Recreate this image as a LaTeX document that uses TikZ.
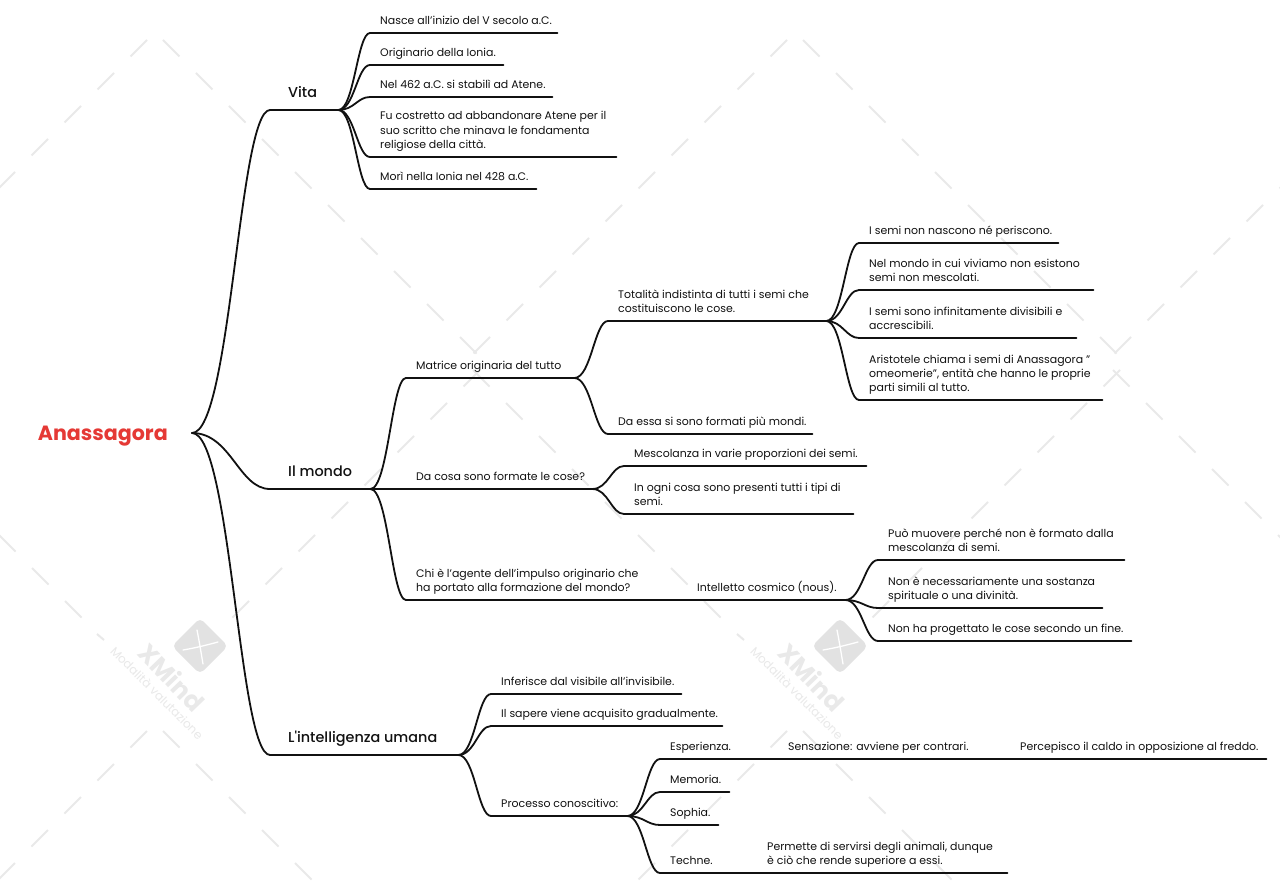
\documentclass[tikz,border=0pt]{standalone}
\usepackage{fontspec}
\setmainfont{Poppins}[Ligatures=ResetAll]
\newfontfamily\medf{Poppins Medium}
\usetikzlibrary{calc}
\definecolor{wm}{HTML}{E9E9E9}
\definecolor{wmlogo}{HTML}{E2E2E2}
\definecolor{rootred}{HTML}{E53935}
\definecolor{inkc}{HTML}{111111}
\tikzset{
  x=1pt,y=-1pt,
  link/.style={line width=1.8pt,draw=inkc,line cap=round},
  bez/.style={to path={let \p1=(\tikztostart),\p2=(\tikztotarget) in
     .. controls ({\x1+0.5*(\x2-\x1)},\y1) and ({\x1+0.6*(\x2-\x1)},\y2) .. (\tikztotarget)}},
  topic/.style={anchor=south west,inner xsep=10pt,inner ysep=0pt,text depth=8.2pt,
     text=inkc,font=\fontsize{10.95}{14.3}\selectfont},
  maintopic/.style={anchor=south west,inner xsep=18pt,inner ysep=0pt,text depth=12.2pt,
     text=inkc,font=\fontsize{14.4}{17}\medf},
  rootnode/.style={anchor=east,inner xsep=24pt,inner ysep=0pt,text height=18pt,text depth=4pt,
     text=rootred,font=\fontsize{20.6}{25}\selectfont\bfseries},
  wdash/.style={line width=2pt,draw=wm},
  wmbig/.style={text=wm,rotate=-46,font=\fontsize{25}{25}\selectfont\bfseries},
  wmsmall/.style={text=wm,rotate=-45,font=\fontsize{12}{12}\selectfont},
}
\newcommand{\lines}[2]{\hbox to #1pt{\begin{tabular}[b]{@{}l@{}}#2\end{tabular}\hss}}
% name, x1, x2, y, text
\newcommand{\leaf}[5]{%
  \pgfmathsetmacro\tw{#3-#2-20}%
  \node[topic] (#1) at (#2,#4) {\lines{\tw}{#5}};
  \draw[link] (#1.south west) -- (#1.south east);}
\newcommand{\branch}[5]{%
  \pgfmathsetmacro\tw{#3-#2-36}%
  \node[maintopic] (#1) at (#2,#4) {\lines{\tw}{#5}};
  \draw[link] (#1.south west) -- (#1.south east);}
\newcommand{\conn}[2]{\draw[link] (#1.south east) to[bez] (#2.south west);}
\begin{document}
\begin{tikzpicture}
\useasboundingbox (0,0) rectangle (1280,885);
\fill[white] (0,0) rectangle (1280,885);
\begin{scope}
\clip (0,0) rectangle (1280,885);
% watermark dashes
\foreach \sx/\sy/\n in {147/40/4,787/40/9,1428/40/9,480/370/7,1120/370/7,147/731/4,787/731/4}{
  \foreach \k in {0,...,\n}{
    \draw[wdash] ({\sx-33*\k},{\sy+33*\k}) -- ++(-16.5,16.5);}}
\foreach \sx/\sy/\n in {163/40/9,803/40/9,473/370/7,1113/370/5,-1/535/2,163/731/4,803/731/4}{
  \foreach \k in {0,...,\n}{
    \draw[wdash] ({\sx+33*\k},{\sy+33*\k}) -- ++(16.5,16.5);}}
\draw[wdash] (97,634) -- (104,640);
\draw[wdash] (737,634) -- (744,640);
\foreach \ox in {0,640}{
  \begin{scope}[shift={(\ox,0)}]
    \fill[wmlogo,rounded corners=5pt] (200,618) -- (228,646) -- (200,674) -- (172,646) -- cycle;
    \draw[white,line width=1.3pt,line cap=round] (197,630) .. controls (199,640) and (201,652) .. (203,664);
    \draw[white,line width=1.3pt,line cap=round] (183,650) .. controls (195,648) and (207,645) .. (218,642);
    \node[wmbig] (xm\ox) at (172,677) {XMind};
    \node[wmsmall] (mv\ox) at (157,693) {Modalità valutazione};
  \end{scope}}
\end{scope}
% root
\node[rootnode] (root) at (192,433) {Anassagora};
% Vita
\branch{vita}{270}{338}{110}{Vita}
\leaf{va}{370}{557}{33}{Nasce all'inizio del V secolo a.C.}
\leaf{vb}{370}{503}{65}{Originario della Ionia.}
\leaf{vc}{370}{552}{97}{Nel 462 a.C. si stabilì ad Atene.}
\leaf{vd}{370}{616}{157}{Fu costretto ad abbandonare Atene per il\\suo scritto che minava le fondamenta\\religiose della città.}
\leaf{ve}{370}{536}{189}{Morì nella Ionia nel 428 a.C.}
% Il mondo
\branch{mondo}{270}{370}{489}{Il mondo}
\leaf{ma}{406}{574}{378}{Matrice originaria del tutto}
\leaf{mb}{608}{826}{321}{Totalità indistinta di tutti i semi che\\costituiscono le cose.}
\leaf{mc}{859}{1058}{243}{I semi non nascono né periscono.}
\leaf{md}{859}{1093}{290}{Nel mondo in cui viviamo non esistono\\semi non mescolati.}
\leaf{me}{859}{1076}{338}{I semi sono infinitamente divisibili e\\accrescibili.}
\leaf{mf}{859}{1102}{400}{Aristotele chiama i semi di Anassagora "\\omeomerie", entità che hanno le proprie\\parti simili al tutto.}
\leaf{mg}{608}{812}{434}{Da essa si sono formati più mondi.}
\leaf{mh}{406}{592}{489}{Da cosa sono formate le cose?}
\leaf{mi}{624}{866}{466}{Mescolanza in varie proporzioni dei semi.}
\leaf{mj}{624}{853}{514}{In ogni cosa sono presenti tutti i tipi di\\semi.}
\leaf{mk}{406}{649}{600}{Chi è l'agente dell'impulso originario che\\ha portato alla formazione del mondo?}
\leaf{ml}{687}{845}{600}{Intelletto cosmico (nous).}
\leaf{mm}{878}{1124}{560}{Può muovere perché non è formato dalla\\mescolanza di semi.}
\leaf{mn}{878}{1102}{608}{Non è necessariamente una sostanza\\spirituale o una divinità.}
\leaf{mo}{878}{1131}{641}{Non ha progettato le cose secondo un fine.}
% L'intelligenza umana
\branch{umana}{270}{458}{755}{L'intelligenza umana}
\leaf{ua}{491}{681}{694}{Inferisce dal visibile all'invisibile.}
\leaf{ub}{491}{722}{726}{Il sapere viene acquisito gradualmente.}
\leaf{uc}{491}{627}{816}{Processo conoscitivo:}
\leaf{ud}{660}{743}{759}{Esperienza.}
\leaf{ue}{778}{976}{759}{Sensazione: avviene per contrari.}
\leaf{uf}{1010}{1266}{759}{Percepisco il caldo in opposizione al freddo.}
\leaf{ug}{660}{729}{792}{Memoria.}
\leaf{uh}{660}{718}{825}{Sophia.}
\leaf{ui}{660}{723}{873}{Techne.}
\leaf{uj}{757}{1007}{873}{Permette di servirsi degli animali, dunque\\è ciò che rende superiore a essi.}
% connectors
\draw[link] (root.east) to[bez] (vita.south west);
\draw[link] (root.east) to[bez] (mondo.south west);
\draw[link] (root.east) to[bez] (umana.south west);
\foreach \c in {va,vb,vc,vd,ve}{\conn{vita}{\c}}
\foreach \c in {ma,mh,mk}{\conn{mondo}{\c}}
\foreach \c in {mb,mg}{\conn{ma}{\c}}
\foreach \c in {mc,md,me,mf}{\conn{mb}{\c}}
\foreach \c in {mi,mj}{\conn{mh}{\c}}
\draw[link] (mk.south east) -- (ml.south west);
\foreach \c in {mm,mn,mo}{\conn{ml}{\c}}
\foreach \c in {ua,ub,uc}{\conn{umana}{\c}}
\foreach \c in {ud,ug,uh,ui}{\conn{uc}{\c}}
\draw[link] (ud.south east) -- (ue.south west);
\draw[link] (ue.south east) -- (uf.south west);
\draw[link] (ui.south east) -- (uj.south west);
\end{tikzpicture}
\end{document}
